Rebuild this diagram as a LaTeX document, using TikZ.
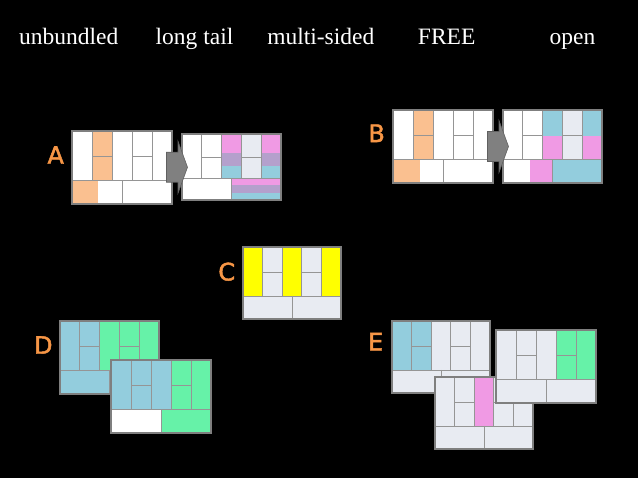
\documentclass[tikz,border=0pt]{standalone}
\usepackage{fontspec}
\usepackage{tikz}
\usetikzlibrary{calc}
\setmainfont{Liberation Serif}
\newfontfamily\letterfont[FakeBold=2]{DejaVu Sans}
\definecolor{bmcorange}{HTML}{FAC090}
\definecolor{bmcmagenta}{HTML}{F09AE4}
\definecolor{bmcpurple}{HTML}{B4A0CC}
\definecolor{bmcblue}{HTML}{93CDDD}
\definecolor{bmcgreen}{HTML}{66F2A8}
\definecolor{bmcgrey}{HTML}{E8EBF2}
\definecolor{bmcyellow}{HTML}{FFFF00}
\definecolor{bmcframe}{HTML}{7F7F7F}
\definecolor{bmcline}{HTML}{959595}
\definecolor{bmcarrow}{HTML}{808080}
\definecolor{lettercol}{HTML}{F79646}
%height of the upper part and of the split in columns 2 and 4
\newcommand{\topy}{0.68}
\newcommand{\midy}{0.35}
%cells of one canvas (unit = one column wide, whole canvas high)
\newcommand{\cAll}{(0,0) rectangle (5,1)}
\newcommand{\cKP}{(0,0) rectangle (1,\topy)}
\newcommand{\cKA}{(1,0) rectangle (2,\midy)}
\newcommand{\cKR}{(1,\midy) rectangle (2,\topy)}
\newcommand{\cVP}{(2,0) rectangle (3,\topy)}
\newcommand{\cCR}{(3,0) rectangle (4,\midy)}
\newcommand{\cCH}{(3,\midy) rectangle (4,\topy)}
\newcommand{\cCS}{(4,0) rectangle (5,\topy)}
\newcommand{\cCO}{(0,\topy) rectangle (2.5,1)}
\newcommand{\cRE}{(2.5,\topy) rectangle (5,1)}
%#1,#2 top left corner, #3 width, #4 height, #5 name, #6 fills
\newcommand{\bmc}[6]{%
\begin{scope}[shift={(#1,#2)}, xscale=#3/5, yscale=#4]
	\fill[white] \cAll;
	#6
	%inner borders
	\draw[cellline] (1,0) -- (1,\topy) (2,0) -- (2,\topy) (3,0) -- (3,\topy) (4,0) -- (4,\topy)
		(1,\midy) -- (2,\midy) (3,\midy) -- (4,\midy)
		(0,\topy) -- (5,\topy) (2.5,\topy) -- (2.5,1);
	\draw[frame] \cAll;
	\coordinate (#5-w) at (0,0.5);
	\coordinate (#5-e) at (5,0.5);
\end{scope}}

\begin{document}
\begin{tikzpicture}[x=1pt, y=-1pt,
cellline/.style={draw=bmcline, line width=0.9pt},
frame/.style={draw=bmcframe, line width=2.6pt},
blockarrow/.style={fill=bmcarrow, draw=bmcarrow!75!black, line width=0.6pt},
letter/.style={text=lettercol, inner sep=0pt, font=\letterfont\fontsize{24}{28}\selectfont},
toplabel/.style={text=white, inner sep=0pt, anchor=base, font=\fontsize{23.5}{28}\selectfont}]
\fill[black] (0,0) rectangle (638,478);
\useasboundingbox (0,0) rectangle (638,478);

%headings
\foreach \x/\t [count=\i] in {68.8/unbundled,194.5/long tail,320.8/multi-sided,446.7/FREE,572.5/open}
	\node[toplabel] (t\i) at (\x,45) {\t};

%A: unbundled
\bmc{72}{131}{100}{73}{A1}{%
	\fill[bmcorange] \cKA; \fill[bmcorange] \cKR;
	\fill[bmcorange] (0,\topy) rectangle (1.3,1);}
\bmc{182}{134}{99}{66}{A2}{%
	\fill[bmcgrey] \cCR; \fill[bmcgrey] \cCH;
	\foreach \col in {2,4}{
		\fill[bmcmagenta] (\col,0) rectangle +(1,0.29);
		\fill[bmcpurple] (\col,0.29) rectangle +(1,0.19);
		\fill[bmcblue] (\col,0.48) rectangle +(1,0.2);
	}
	\fill[bmcmagenta] (2.5,\topy) rectangle (5,0.78);
	\fill[bmcpurple] (2.5,0.78) rectangle (5,0.89);
	\fill[bmcblue] (2.5,0.89) rectangle (5,1);}
\coordinate (arrA) at ($(A1-e)!0.5!(A2-w)$);
\filldraw[blockarrow] ([shift={(-10.5,-15)}]arrA) -- ++(11.5,0) -- ++(0,-11) -- ++(9.5,26)
	-- ++(-9.5,26) -- ++(0,-11) -- ++(-11.5,0) -- cycle;
\node[letter] (lA) at (55.7,155) {A};

%B: long tail
\bmc{393}{110}{100}{73}{B1}{%
	\fill[bmcorange] \cKA; \fill[bmcorange] \cKR;
	\fill[bmcorange] (0,\topy) rectangle (1.35,1);}
\bmc{503}{110}{99}{73}{B2}{%
	\fill[bmcgrey] \cCR; \fill[bmcgrey] \cCH;
	\foreach \col in {2,4}{
		\fill[bmcblue] (\col,0) rectangle (\col+1,\midy);
		\fill[bmcmagenta] (\col,\midy) rectangle (\col+1,\topy);
	}
	\fill[bmcmagenta] (1.35,\topy) rectangle (2.5,1);
	\fill[bmcblue] \cRE;}
\coordinate (arrB) at ($(B1-e)!0.5!(B2-w)$);
\filldraw[blockarrow] ([shift={(-10.5,-15)}]arrB) -- ++(11.5,0) -- ++(0,-11) -- ++(9.5,26)
	-- ++(-9.5,26) -- ++(0,-11) -- ++(-11.5,0) -- cycle;
\node[letter] (lB) at (376.7,133.3) {B};

%C: multi-sided
\bmc{243}{247}{98}{72}{C}{%
	\fill[bmcgrey] \cAll;
	\fill[bmcyellow] \cKP; \fill[bmcyellow] \cVP; \fill[bmcyellow] \cCS;}
\node[letter] (lC) at (226.7,271.7) {C};

%D: free
\bmc{60}{321}{99}{73}{D1}{%
	\fill[bmcblue] \cAll;
	\fill[bmcgreen] (2,0) rectangle (5,\topy);}
\bmc{111}{360}{100}{73}{D2}{%
	\fill[bmcblue] (0,0) rectangle (3,\topy);
	\fill[bmcgreen] (3,0) rectangle (5,\topy);
	\fill[bmcgreen] \cRE;}
\node[letter] (lD) at (43.3,345) {D};

%E: open
\bmc{392}{321}{98}{72}{E1}{%
	\fill[bmcgrey] \cAll;
	\fill[bmcblue] (0,0) rectangle (2,\topy);}
\bmc{435}{377}{98}{72}{E3}{%
	\fill[bmcgrey] \cAll;
	\fill[bmcmagenta] \cVP;}
\bmc{496}{330}{100}{73}{E2}{%
	\fill[bmcgrey] \cAll;
	\fill[bmcgreen] (3,0) rectangle (5,\topy);}
\node[letter] (lE) at (375.7,341.7) {E};
\end{tikzpicture}
\end{document}
